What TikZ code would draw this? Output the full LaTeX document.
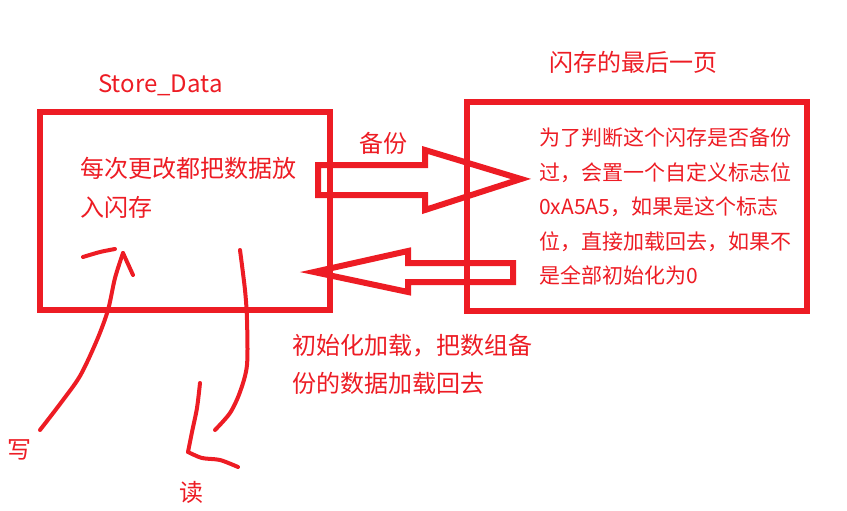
\documentclass[tikz,border=0pt]{standalone}
\usepackage{fontspec}
\setmainfont{Noto Sans CJK SC}
\usepackage{tikz}
\usetikzlibrary{positioning}
\definecolor{paintred}{HTML}{ED1C24}

\begin{document}
\begin{tikzpicture}[x=1pt, y=-1pt,
  every node/.style={text=paintred, inner sep=0pt},
  box/.style={draw=paintred, line width=6pt},
  big/.style={font=\fontsize{24}{38}\selectfont},
  note/.style={font=\fontsize{21}{34.5}\selectfont, align=left},
  blockarrow/.style={draw=paintred, line width=6pt, line join=miter},
  hand/.style={draw=paintred, line width=4pt, line cap=round, line join=round}
]
\useasboundingbox (0,0) rectangle (847,511);

% Boxes
\draw[box] (40,112) rectangle (330,310);
\draw[box] (467,102) rectangle (807,311);
\coordinate (store) at (40,112);
\coordinate (flash) at (467,102);

% Titles
\node[big, anchor=west] (storetitle) at (98,85) {Store\_Data};
\node[big, anchor=west] (flashtitle) at (549,62) {闪存的最后一页};

% Box texts
\node[big, anchor=north west, align=left, font=\fontsize{24}{39}\selectfont]
  (storetext) at (80,157) {每次更改都把数据放\\入闪存};
\node[note, anchor=north west] (flashtext) at (539,128)
  {为了判断这个闪存是否备份\\过，会置一个自定义标志位\\0xA5A5，如果是这个标志\\位，直接加载回去，如果不\\是全部初始化为0};

% Block arrows
\draw[blockarrow] (318,165) -- (425,165) -- (425,150) -- (521,179)
  -- (425,210) -- (425,195) -- (318,195) -- cycle;
\node[big, anchor=west] (backup) at (359,143) {备份};

\draw[blockarrow] (314,272) -- (408,251) -- (408,263) -- (513,263)
  -- (513,282) -- (408,282) -- (408,292) -- cycle;
\node[big, anchor=north west, align=left] (loadtext) at (292,334)
  {初始化加载，把数组备\\份的数据加载回去};

% Write
\node[big] (write) at (19,450) {写};
\draw[hand] plot[smooth] coordinates {(40,430) (60,404) (80,376) (97,340)
  (108,310) (115,278) (123,253)};
\draw[hand] (123,253) -- (133,275);
\draw[hand] plot[smooth] coordinates {(83,257) (100,252) (115,249)};

% Read
\node[big] (read) at (191,492) {读};
\draw[hand] plot[smooth] coordinates {(240,250) (245,290) (247,320)
  (247,365) (240,392) (230,413) (215,430)};
\draw[hand] plot[smooth] coordinates {(200,383) (197,408) (192,432) (188,452)};
\draw[hand] plot[smooth] coordinates {(188,452) (202,458) (220,460) (238,467)};
\end{tikzpicture}
\end{document}
